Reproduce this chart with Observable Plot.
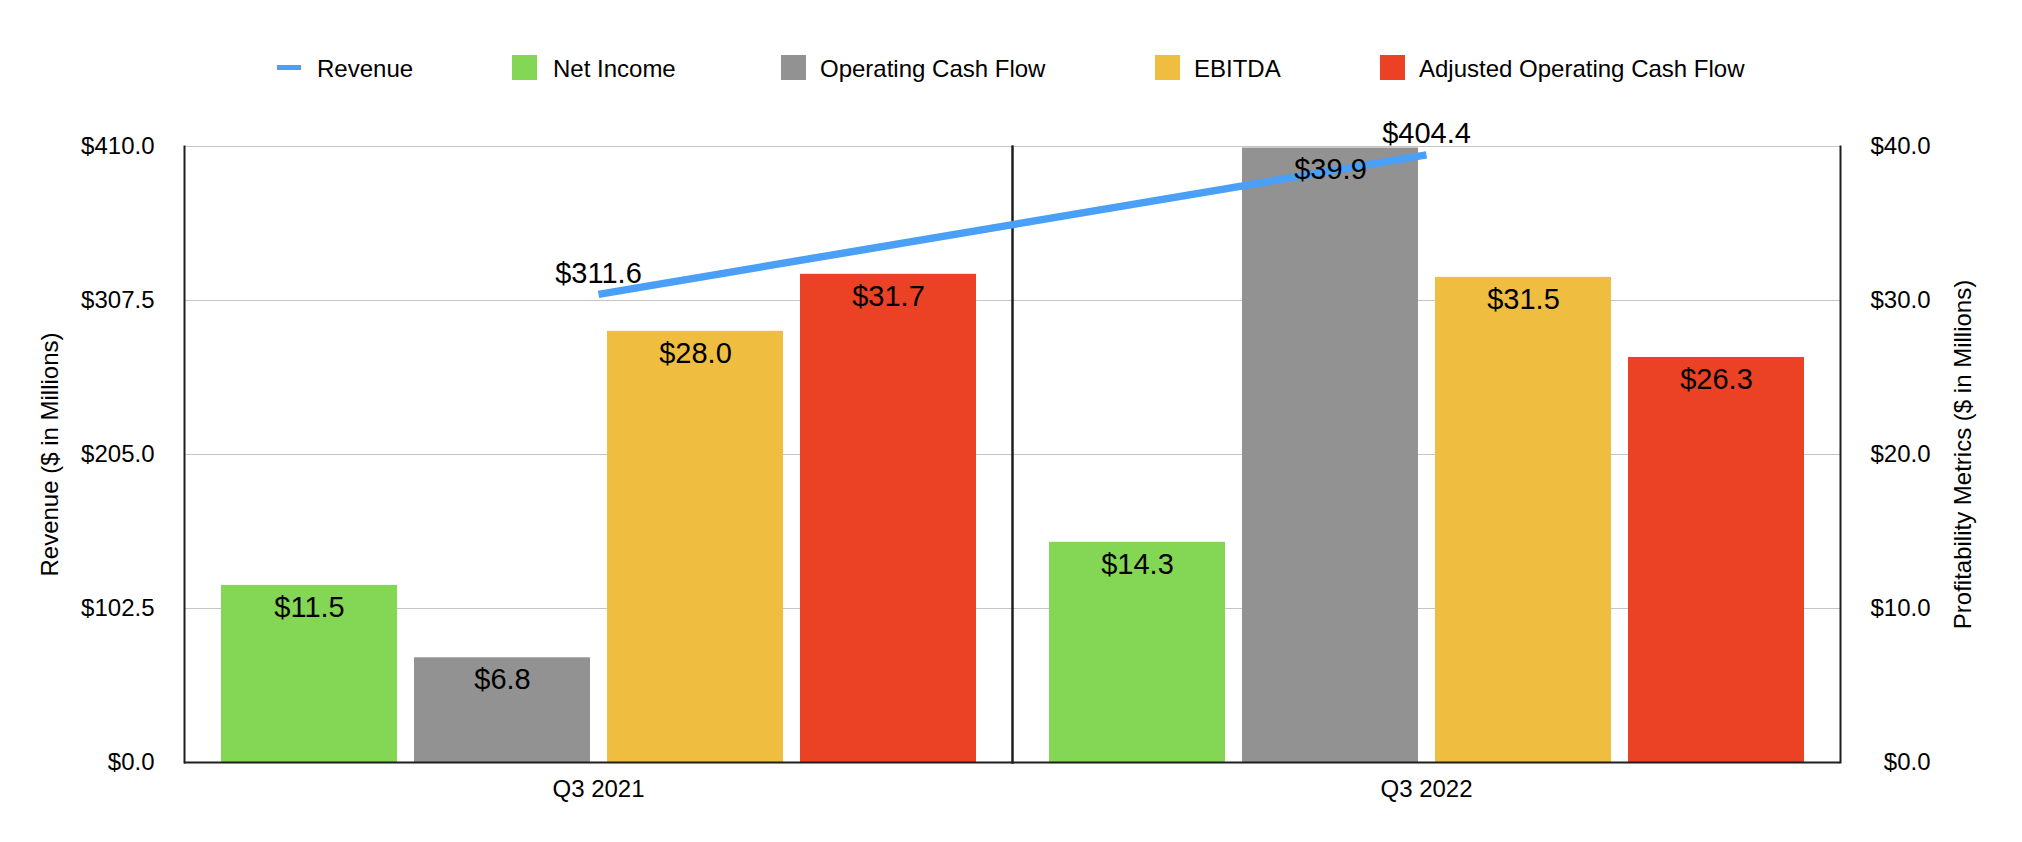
<!DOCTYPE html>
<html><head><meta charset="utf-8">
<script src="https://cdn.jsdelivr.net/npm/d3@7"></script>
<script src="https://cdn.jsdelivr.net/npm/@observablehq/plot@0.6"></script>
<style>
body{margin:0;background:#fff;font-family:"Liberation Sans",Arial,Helvetica,sans-serif;}
#legend{position:relative;height:100px;width:2022px;}
.li{position:absolute;top:52px;height:34px;display:flex;align-items:center;font-size:24px;color:#000;white-space:nowrap}
.sw{position:absolute;}
#chart{position:relative;width:2022px;height:742px}
#chart svg{position:absolute;left:0;top:0}
</style></head><body>
<div id="legend"></div><div id="chart"></div>
<script>
// ---- data ----
const quarters = ["Q3 2021", "Q3 2022"];
const revenue = [311.6, 404.4];
const seriesNames = ["Net Income", "Operating Cash Flow", "EBITDA", "Adjusted Operating Cash Flow"];
const netIncome = [11.5, 14.3];
const operatingCashFlow = [6.8, 39.9];
const ebitda = [28.0, 31.5];
const adjustedOperatingCashFlow = [31.7, 26.3];
const revenueTicks = [0, 102.5, 205, 307.5, 410];
const metricTicks = [0, 10, 20, 30, 40];
const revenueLabel = "Revenue";
const leftTitle = "Revenue ($ in Millions)";
const rightTitle = "Profitability Metrics ($ in Millions)";

// ---- styles ----
const colors = ["#84D655", "#929292", "#EFBD40", "#EB4125"];
const lineColor = "#4A9FF7";
const gridColor = "#c4c4c4";
const axisColor = "#1e1e1e";
const font = "'Liberation Sans', Arial, Helvetica, sans-serif";

const seriesValues = [netIncome, operatingCashFlow, ebitda, adjustedOperatingCashFlow];
const ratio = revenueTicks[revenueTicks.length - 1] / metricTicks[metricTicks.length - 1];
const rows = [];
quarters.forEach((q, i) => seriesNames.forEach((s, j) => rows.push({quarter: q, series: s, value: seriesValues[j][i]})));
const revRows = quarters.map((q, i) => ({quarter: q, revenue: revenue[i]}));
const fmt = v => "$" + v.toFixed(1);

// ---- legend ----
const legendItems = [
  {name: revenueLabel, color: lineColor, line: true, x: 277, tx: 317},
  ...seriesNames.map((s, j) => ({name: s, color: colors[j], line: false, x: [512, 781, 1155, 1380][j], tx: [553, 820, 1194, 1419][j]}))
];
const leg = document.getElementById("legend");
for (const it of legendItems) {
  const sw = document.createElement("div");
  sw.className = "sw";
  sw.style.left = it.x + "px";
  sw.style.background = it.color;
  if (it.line) { sw.style.top = "65px"; sw.style.width = "24px"; sw.style.height = "5px"; }
  else { sw.style.top = "55px"; sw.style.width = "25px"; sw.style.height = "25px"; }
  leg.appendChild(sw);
  const t = document.createElement("div");
  t.className = "li";
  t.style.left = it.tx + "px";
  t.textContent = it.name;
  leg.appendChild(t);
}

// ---- chart ----
const W = 2022, H = 742;
const common = {width: W, height: H, marginTop: 46, marginBottom: 80, marginLeft: 184, marginRight: 182,
  style: {fontFamily: font, background: "transparent", color: "#000", overflow: "visible"}};
const fxOpt = {domain: quarters, paddingInner: 0, paddingOuter: 0, label: null};
const xOpt = {type: "band", domain: seriesNames, paddingInner: 0.09, paddingOuter: 0.187, axis: null};
const yOpt = {domain: [0, revenueTicks[revenueTicks.length - 1]]};

const main = Plot.plot({
  ...common,
  fx: fxOpt,
  x: xOpt,
  y: yOpt,
  color: {domain: seriesNames, range: colors},
  marks: [
    Plot.ruleY(revenueTicks, {stroke: gridColor, strokeWidth: 1}),
    Plot.barY(rows, {fx: "quarter", x: "series", y: d => d.value * ratio, fill: "series"}),
    Plot.frame({anchor: "left", stroke: axisColor, strokeWidth: 2}),
    Plot.frame({anchor: "right", stroke: axisColor, strokeWidth: 2}),
    Plot.ruleY([0], {stroke: axisColor, strokeWidth: 2}),
    Plot.axisY({anchor: "left", ticks: revenueTicks, tickSize: 0, tickPadding: 30, tickFormat: fmt, fontSize: 24,
      label: leftTitle, labelAnchor: "center", labelOffset: 144, labelArrow: "none"}),
    Plot.axisY({anchor: "right", ticks: metricTicks.map(t => t * ratio), tickSize: 0, tickPadding: 90, textAnchor: "end",
      tickFormat: t => fmt(t / ratio), fontSize: 24,
      label: rightTitle, labelAnchor: "center", labelOffset: 130, labelArrow: "none"}),
    Plot.axisFx({anchor: "bottom", tickSize: 0, tickPadding: 17, fontSize: 24, label: null})
  ]
});

const lineLayer = Plot.plot({
  ...common,
  x: {type: "point", domain: quarters, padding: 0.5, axis: null},
  y: {...yOpt, axis: null},
  marks: [
    Plot.line(revRows, {x: "quarter", y: "revenue", stroke: lineColor, strokeWidth: 7.5, strokeLinecap: "butt"}),
    Plot.text(revRows, {x: "quarter", y: "revenue", text: d => fmt(d.revenue), dy: -21, fontSize: 29, fill: "#000"})
  ]
});

const labelLayer = Plot.plot({
  ...common,
  fx: {...fxOpt, axis: null},
  x: xOpt,
  y: {...yOpt, axis: null},
  marks: [
    Plot.text(rows, {fx: "quarter", x: "series", y: d => d.value * ratio, text: d => fmt(d.value), dy: 22, fontSize: 29, fill: "#000"})
  ]
});

const chart = document.getElementById("chart");
chart.appendChild(main);
chart.appendChild(lineLayer);
chart.appendChild(labelLayer);
</script>
</body></html>
